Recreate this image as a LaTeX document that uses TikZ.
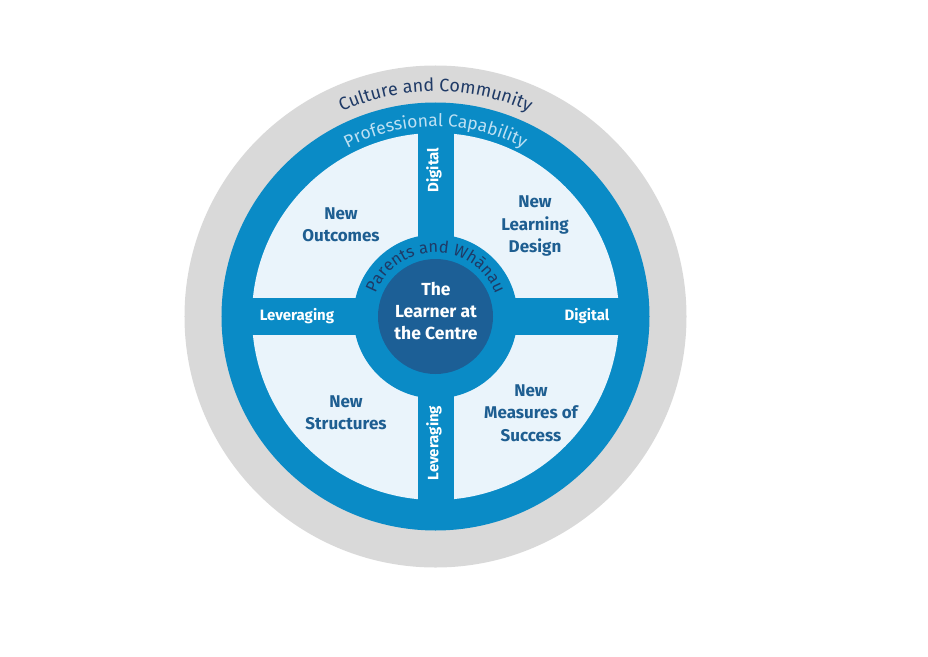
\documentclass[tikz,border=0pt]{standalone}
\usepackage{fontspec}
\setmainfont{Fira Sans}
\usetikzlibrary{decorations.text}
\definecolor{ringGray}{HTML}{D9D9D9}
\definecolor{ringBlue}{HTML}{0A8BC6}
\definecolor{paleBlue}{HTML}{EAF4FB}
\definecolor{coreBlue}{HTML}{1C5F96}
\definecolor{quadBlue}{HTML}{1E5E91}
\definecolor{navyText}{HTML}{1F3A66}
\definecolor{capText}{HTML}{BDE0F3}

\begin{document}
\begin{tikzpicture}[x=1pt,y=1pt,
  quadtext/.style={font=\fontsize{17}{22.5}\selectfont\bfseries,text=quadBlue,align=center},
  coretext/.style={font=\fontsize{17.5}{22}\selectfont\bfseries,text=white,align=center},
  bartext/.style={font=\fontsize{15}{16}\selectfont\bfseries,text=white}]
  \useasboundingbox (-435.5,-339.5) rectangle (492.5,316.5);
  % rings
  \fill[ringGray] (0,0) circle[radius=251pt];
  \fill[ringBlue] (0,0) circle[radius=214pt];
  \fill[paleBlue] (0,0) circle[radius=183.5pt];
  % cross bars
  \fill[ringBlue] (-18,-190) rectangle (18,190);
  \fill[ringBlue] (-190,-18.5) rectangle (190,18.5);
  % centre
  \fill[ringBlue] (0,0) circle[radius=82pt];
  \fill[coreBlue] (0,0) circle[radius=57.5pt];
  % curved labels
  \path[decorate,decoration={text along path,text align=center,
    text={|\fontsize{18}{18}\selectfont\color{navyText}|Culture and Community}}]
    (180:225pt) arc[start angle=180,end angle=0,radius=225pt];
  \path[decorate,decoration={text along path,text align=center,
    text={|\fontsize{17.5}{17.5}\selectfont\color{capText}|Professional Capability}}]
    (180:190pt) arc[start angle=180,end angle=0,radius=190pt];
  \path[decorate,decoration={text along path,text align=center,
    text={|\fontsize{16.5}{16.5}\selectfont\color{navyText}|Parents and Whānau}}]
    (180:64pt) arc[start angle=180,end angle=0,radius=64pt];
  % quadrants
  \node[quadtext] (outcomes) at (-94.5,91.5) {New\\Outcomes};
  \node[quadtext] (design) at (99.5,90.5) {New\\Learning\\Design};
  \node[quadtext] (structures) at (-89.5,-96.5) {New\\Structures};
  \node[quadtext] (measures) at (95.5,-96.5) {New\\Measures of\\Success};
  \node[coretext] (learner) at (0.5,5.5) {The\\Learner at\\the Centre};
  % bar labels
  \node[bartext] (levLeft) at (-138.5,0) {Leveraging};
  \node[bartext] (digRight) at (151.5,0) {Digital};
  \node[bartext,rotate=90] (digTop) at (-1.5,146.5) {Digital};
  \node[bartext,rotate=90] (levBottom) at (-1.5,-126.5) {Leveraging};
\end{tikzpicture}
\end{document}
